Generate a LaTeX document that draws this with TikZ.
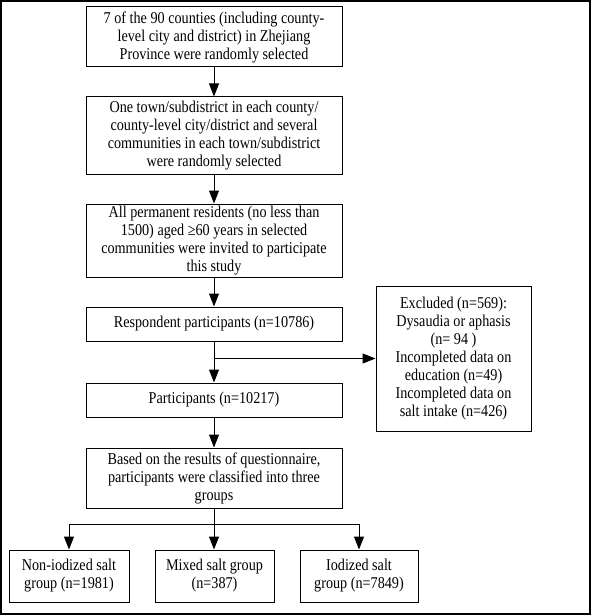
\documentclass[tikz,border=0pt]{standalone}
\usepackage{fontspec}
\setmainfont{Liberation Serif}[FakeStretch=0.86]
\usetikzlibrary{arrows.meta}
\begin{document}
\begin{tikzpicture}[x=1pt,y=-1pt,
  box/.style={draw,line width=1pt,inner sep=0pt,align=center,font=\fontsize{16.5}{18}\selectfont},
  arr/.style={line width=1pt,-{Triangle[width=10pt,length=13pt]}},
  ln/.style={line width=1pt}]
\useasboundingbox (0,0) rectangle (591,615);
\draw[line width=2pt] (1,1) rectangle (590,614);
\node[box,minimum width=256pt,minimum height=60pt] (b1) at (214,37) {7 of the 90 counties (including county-\\level city and district) in Zhejiang\\Province were randomly selected};
\node[box,minimum width=256pt,minimum height=77pt] (b2) at (214,135.5) {One town/subdistrict in each county/\\county-level city/district and several\\communities in each town/subdistrict\\were randomly selected};
\node[box,minimum width=256pt,minimum height=73pt] (b3) at (214,240.5) {All permanent residents (no less than\\1500) aged ≥60 years in selected\\communities were invited to participate\\this study};
\node[box,minimum width=256pt,minimum height=34pt] (b4) at (214,324) {Respondent participants (n=10786)};
\node[box,minimum width=256pt,minimum height=34pt] (b5) at (214,400) {Participants (n=10217)};
\node[box,minimum width=256pt,minimum height=60pt] (b6) at (214,478) {Based on the results of\ questionnaire,\\participants were classified into three\\groups};
\node[box,minimum width=155pt,minimum height=145pt] (ex) at (453.5,358.5) {Excluded (n=569):\\Dysaudia or aphasis\\(n= 94 )\\Incompleted data on\\education (n=49)\\Incompleted data on\\salt intake (n=426)};
\node[box,minimum width=120pt,minimum height=52pt] (g1) at (69,576) {Non-iodized salt\\group (n=1981)};
\node[box,minimum width=119pt,minimum height=52pt] (g2) at (214.5,576) {Mixed salt group\\(n=387)};
\node[box,minimum width=118pt,minimum height=52pt] (g3) at (359,576) {Iodized salt\\group (n=7849)};
\draw[arr] (b1) -- (b2);
\draw[arr] (b2) -- (b3);
\draw[arr] (b3) -- (b4);
\draw[arr] (b4) -- (b5);
\draw[arr] (b5) -- (b6);
\coordinate (j) at (214,358.5);
\draw[arr] (j) -- (ex.west);
\coordinate (br) at (214,524);
\coordinate (bl) at (69,524);
\coordinate (bri) at (359,524);
\draw[ln] (b6.south) -- (br);
\draw[ln] (bl) -- (bri);
\draw[arr] (bl) -- (g1.north);
\draw[arr] (br) -- (g2.north -| br);
\draw[arr] (bri) -- (g3.north);
\end{tikzpicture}
\end{document}
